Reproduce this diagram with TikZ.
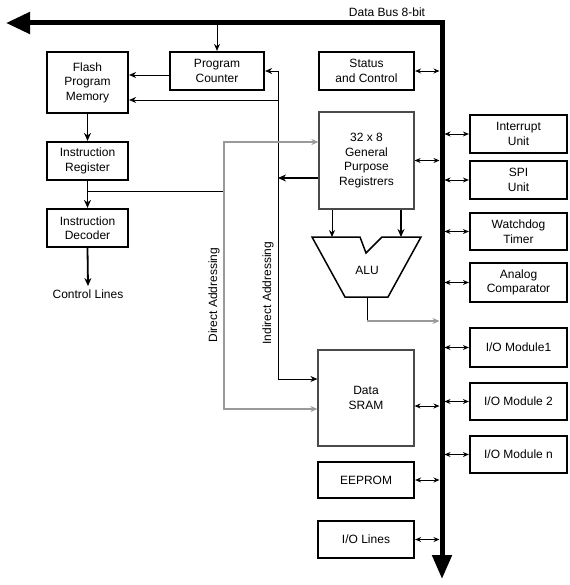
\documentclass[tikz,border=0pt]{standalone}
\usepackage{fontspec}
\setmainfont{Liberation Sans}
\usetikzlibrary{arrows.meta,positioning,calc}
\definecolor{linegray}{HTML}{9A9A9A}
\definecolor{boxgray}{HTML}{4A4A4A}

\begin{document}
\begin{tikzpicture}[x=1pt,y=-1pt,font=\fontsize{12}{14.5}\selectfont,
  blk/.style={draw,line width=2.2pt,align=center,inner sep=1pt},
  thinblk/.style={draw=boxgray,line width=1.2pt,align=center,inner sep=1pt},
  con/.style={line width=.8pt,-{Stealth[length=7pt,width=6pt]}},
  tcon/.style={line width=1.8pt,-{Stealth[length=8pt,width=7pt]}},
  dbl/.style={line width=.9pt,{Stealth[length=6pt,width=5pt]}-{Stealth[length=6pt,width=5pt]}},
  gcon/.style={linegray,line width=1.1pt},
  bus/.style={line width=5pt,line join=miter}]
  \useasboundingbox (0,0) rectangle (569,585);

  % data bus
  \coordinate (busl) at (6,23);
  \coordinate (busc) at (442,23);
  \coordinate (busb) at (442,579);
  \draw[bus,{Triangle[length=24pt,width=21pt]}-{Triangle[length=24pt,width=19pt]}] (busl) -- (busc) -- (busb);
  \node (buslbl) at (387,12) {Data Bus 8-bit};

  % left column
  \node[blk,minimum width=81pt,minimum height=61pt] (flash) at (87.5,82.5) {Flash\\Program\\Memory};
  \node[blk,minimum width=94pt,minimum height=38pt] (pc) at (217,71) {Program\\Counter};
  \node[blk,minimum width=81pt,minimum height=38pt] (ir) at (87.5,161) {Instruction\\Register};
  \node[blk,minimum width=81pt,minimum height=38pt] (id) at (87.5,228) {Instruction\\Decoder};
  \node (ctrl) at (88,294) {Control Lines};

  % middle column
  \node[blk,minimum width=95pt,minimum height=38pt] (status) at (366.5,71) {Status\\and Control};
  \node[thinblk,minimum width=95pt,minimum height=97pt] (gpr) at (366.5,160.5) {32 x 8\\General\\Purpose\\Registrers};
  \node[thinblk,minimum width=96pt,minimum height=96pt] (sram) at (366,398) {Data\\SRAM};
  \node[blk,minimum width=96pt,minimum height=36pt] (eeprom) at (366,480) {EEPROM};
  \node[blk,minimum width=96pt,minimum height=37pt] (iolines) at (366,539.5) {I/O Lines};

  % ALU
  \draw[line width=1.5pt,line join=miter] (312,237) -- (360,237) -- (366,253) -- (382,237) -- (421,237) -- (388,297) -- (345,297) -- cycle;
  \node (alu) at (367,270) {ALU};

  % right column
  \node[blk,minimum width=97pt,minimum height=38pt] (intr) at (518.5,134) {Interrupt\\Unit};
  \node[blk,minimum width=97pt,minimum height=38pt] (spi) at (518.5,180) {SPI\\Unit};
  \node[blk,minimum width=97pt,minimum height=37pt] (wdt) at (518.5,231.5) {Watchdog\\Timer};
  \node[blk,minimum width=97pt,minimum height=39pt] (acomp) at (518.5,282.5) {Analog\\Comparator};
  \node[blk,minimum width=97pt,minimum height=39pt] (io1) at (518.5,347.5) {I/O Module1};
  \node[blk,minimum width=97pt,minimum height=37pt] (io2) at (518.5,401.5) {I/O Module 2};
  \node[blk,minimum width=97pt,minimum height=37pt] (ion) at (518.5,454.5) {I/O Module n};

  % addressing labels
  \node[rotate=90] (dirlbl) at (214,295) {Direct Addressing};
  \node[rotate=90] (indlbl) at (268,293) {Indirect Addressing};

  % program flow
  \draw[con] (pc.north |- busc) ++(0,2.5) -- (pc.north);
  \draw[con] ([yshift=-4pt]pc.west) -- ([yshift=-4pt]pc.west -| flash.east);
  \draw[tcon] (flash.south) -- (ir.north);
  \draw[tcon] (ir.south) -- (id.north);
  \draw[tcon] (id.south) -- (ctrl.north);

  % indirect addressing
  \coordinate (indb) at (278,379);
  \coordinate (indf) at (278,100);
  \coordinate (indg) at (278,178);
  \draw[line width=.8pt,{Stealth[length=7pt,width=6pt]}-{Stealth[length=7pt,width=6pt]}] (pc.east) -| (indb) -- (indb -| sram.west);
  \draw[con] (indf) -- (indf -| flash.east);
  \draw[tcon] (indg -| gpr.west) -- (indg);

  % direct addressing
  \coordinate (irj) at (88,191);
  \coordinate (dirj) at (224,191);
  \coordinate (dtop) at (224,142);
  \coordinate (dbot) at (224,409);
  \draw[line width=.8pt] (irj) -- (dirj);
  \draw[gcon,{Stealth[length=7pt,width=6pt]}-{Stealth[length=7pt,width=6pt]}] (gpr.west |- dtop) -- (dtop) -- (dbot) -- (dbot -| sram.west);

  % registers to ALU
  \coordinate (alul) at (332,237);
  \coordinate (alur) at (401,237);
  \coordinate (aluo) at (367,297);
  \draw[con] (alul |- gpr.south) -- (alul);
  \draw[tcon] (alur |- gpr.south) -- (alur);
  \draw[line width=.8pt] (aluo) -- (367,321) coordinate (aluk);
  \draw[gcon,-{Stealth[length=7pt,width=6pt]}] (aluk) -- ([xshift=-2.5pt]aluk -| busc);

  % bus connections
  \foreach \b in {status,gpr,eeprom,iolines}
    \draw[dbl,shorten >=2.5pt] (\b.east) -- (\b.east -| busc);
  \draw[dbl,shorten >=2.5pt] ([yshift=-8pt]sram.east) -- ([yshift=-8pt]sram.east -| busc);
  \foreach \b in {intr,spi,acomp,io1,io2,ion}
    \draw[dbl,shorten <=2.5pt] (\b.west -| busc) -- (\b.west);
  \draw[dbl,line width=1.6pt,shorten <=2.5pt] (wdt.west -| busc) -- (wdt.west);
\end{tikzpicture}
\end{document}
